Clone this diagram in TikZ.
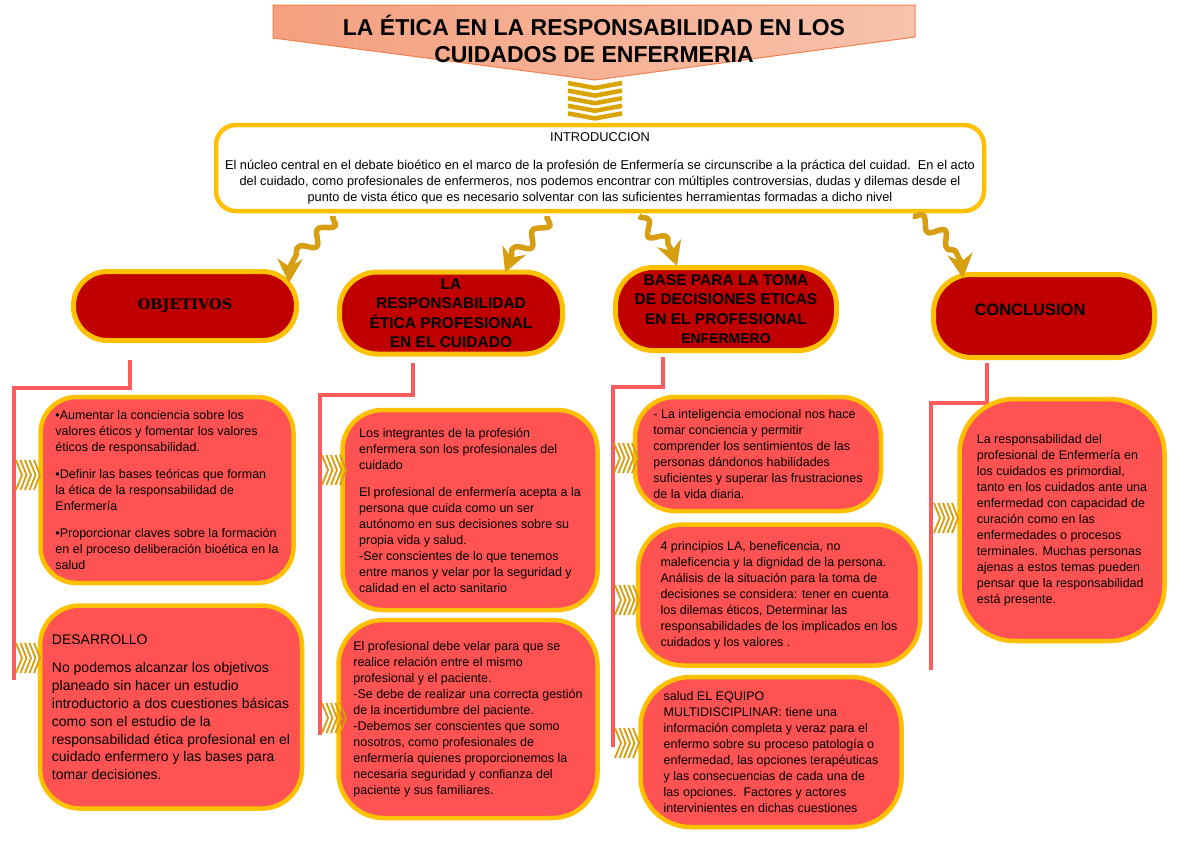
\documentclass[tikz,border=0pt]{standalone}
\usepackage{fontspec}
\setmainfont{Liberation Sans}
\newfontfamily\slabfont{DejaVu Serif}
\usetikzlibrary{arrows.meta,decorations.pathmorphing,positioning}

\definecolor{goldline}{RGB}{255,192,0}
\definecolor{pillred}{RGB}{192,0,0}
\definecolor{boxred}{RGB}{255,82,82}
\definecolor{linered}{RGB}{250,92,92}
\definecolor{wavegold}{RGB}{214,158,16}
\definecolor{chevgold}{RGB}{217,163,0}
\definecolor{bannerA}{RGB}{244,160,126}
\definecolor{bannerB}{RGB}{248,194,172}
\definecolor{bannerline}{RGB}{240,128,80}

\begin{document}
\begin{tikzpicture}[x=1pt, y=-1pt,
    pill/.style={draw=goldline, line width=5pt, fill=pillred, rounded corners=38pt,
      inner sep=0pt, align=center, font=\bfseries\fontsize{15.5}{19.5}\selectfont},
    textbox/.style={draw=goldline, line width=4.5pt, fill=boxred, inner sep=0pt,
      align=left, font=\fontsize{12.5}{16}\selectfont},
    redline/.style={draw=linered, line width=3.5pt},
    wavy/.style={draw=wavegold, line width=5.5pt, decorate,
      decoration={snake, amplitude=6pt, segment length=26pt, post length=16pt},
      -{Stealth[length=24pt, width=25pt]}},
    chevright/.pic={\foreach \k in {0,...,4}
      \draw[wavegold, line width=1.8pt] ({-11+4.5*\k},-15) -- ({-5+4.5*\k},0) -- ({-11+4.5*\k},15);},
    chevdown/.pic={\foreach \k in {0,...,4}
      \draw[chevgold, line width=4.5pt] (-27,{7.6*\k}) -- (0,{7.6*\k+5}) -- (27,{7.6*\k});}]
  \path[fill=white] (0,0) rectangle (1200,849);
  \useasboundingbox (0,0) rectangle (1200,849);

  \path[left color=bannerA, right color=bannerB, draw=bannerline, line width=1pt]
    (273,5) -- (915,5) -- (915,37) -- (595,80) -- (273,38) -- cycle;
  \node[font=\bfseries\fontsize{23}{27}\selectfont, align=center] (title) at (594,39)
    {LA ÉTICA EN LA RESPONSABILIDAD EN LOS\\CUIDADOS DE ENFERMERIA};
  \pic at (595,83) {chevdown};

  \node[draw=goldline, line width=4.5pt, rounded corners=20pt, fill=white, inner sep=0pt,
        minimum width=768, minimum height=86, align=center,
        font=\fontsize{12.8}{16}\selectfont] (intro) at (600,168)
    {INTRODUCCION\\[12pt]
     El núcleo central en el debate bioético en el marco de la profesión de Enfermería se circunscribe a la práctica del cuidad.\ \ En el acto\\
     del cuidado, como profesionales de enfermeros, nos podemos encontrar con múltiples controversias, dudas y dilemas desde el\\
     punto de vista ético que es necesario solventar con las suficientes herramientas formadas a dicho nivel};

  \coordinate (r1) at (130,360);  \coordinate (r1e) at (14,680);
  \coordinate (r2) at (413,363);  \coordinate (r2e) at (320,735);
  \coordinate (r3) at (663,357);  \coordinate (r3e) at (613,747);
  \coordinate (r4) at (987,363);  \coordinate (r4e) at (931,670);
  \draw[redline] (r1) -- ++(0,28) -| (r1e);
  \draw[redline] (r2) -- ++(0,32) -| (r2e);
  \draw[redline] (r3) -- ++(0,30) -| (r3e);
  \draw[redline] (r4) -- ++(0,40) -| (r4e);

  \node[pill, minimum width=223, minimum height=69, rounded corners=34pt,
        font=\slabfont\bfseries\fontsize{14.5}{17}\selectfont] (obj) at (185,306) {OBJETIVOS};
  \node[pill, minimum width=223, minimum height=82] (resp) at (451,313)
    {LA\\RESPONSABILIDAD\\ÉTICA PROFESIONAL\\EN EL CUIDADO};
  \node[pill, minimum width=221, minimum height=83] (base) at (726,309)
    {BASE PARA LA TOMA\\DE DECISIONES ETICAS\\EN EL PROFESIONAL\\{\fontsize{14}{19.5}\selectfont ENFERMERO}};
  \node[pill, minimum width=221, minimum height=83] (concl) at (1044,316) {};
  \node[font=\bfseries\fontsize{16.5}{20}\selectfont] (conclname) at (1030,310) {CONCLUSION};

  \node[textbox, minimum width=253, minimum height=186, rounded corners=36pt] (objtxt) at (167,490)
    {•Aumentar la conciencia sobre los\\valores éticos y fomentar los valores\\éticos de responsabilidad.\\[11pt]
     •Definir las bases teóricas que forman\\la ética de la responsabilidad de\\Enfermería\\[11pt]
     •Proporcionar claves sobre la formación\\en el proceso deliberación bioética en la\\salud};
  \node[textbox, minimum width=262, minimum height=203, rounded corners=40pt,
        font=\fontsize{14}{17.8}\selectfont] (desarrollo) at (171,707)
    {DESARROLLO\\[11pt]
     No podemos alcanzar los objetivos\\planeado sin hacer un estudio\\introductorio a dos cuestiones básicas\\
     como son el estudio de la\\responsabilidad ética profesional en el\\cuidado enfermero y las bases para\\tomar decisiones.};
  \node[textbox, minimum width=255, minimum height=200, rounded corners=40pt] (resptxt) at (470,510)
    {Los integrantes de la profesión\\enfermera son los profesionales del\\cuidado\\[11pt]
     El profesional de enfermería acepta a la\\persona que cuida como un ser\\autónomo en sus decisiones sobre su\\
     propia vida y salud.\\-Ser conscientes de lo que tenemos\\entre manos y velar por la seguridad y\\calidad en el acto sanitario};
  \node[textbox, minimum width=259, minimum height=198, rounded corners=45pt] (respmas) at (468,719)
    {El profesional debe velar para que se\\realice relación entre el mismo\\profesional y el paciente.\\
     -Se debe de realizar una correcta gestión\\de la incertidumbre del paciente.\\-Debemos ser conscientes que somo\\
     nosotros, como profesionales de\\enfermería quienes proporcionemos la\\necesaria seguridad y confianza del\\paciente y sus familiares.};
  \node[textbox, minimum width=246, minimum height=114, rounded corners=40pt] (basetxt) at (758,454)
    {- La inteligencia emocional nos hace\\tomar conciencia y permitir\\comprender los sentimientos de las\\
     personas dándonos habilidades\\suficientes y superar las frustraciones\\de la vida diaria.};
  \node[textbox, minimum width=282, minimum height=141, rounded corners=45pt] (baseprin) at (779,595)
    {4 principios LA, beneficencia, no\\maleficencia y la dignidad de la persona.\\Análisis de la situación para la toma de\\
     decisiones se considera: tener en cuenta\\los dilemas éticos, Determinar las\\
     responsabilidades de los implicados en los\\cuidados y los valores .};
  \node[textbox, minimum width=261, minimum height=150, rounded corners=50pt] (baseequipo) at (771,752)
    {salud EL EQUIPO\\MULTIDISCIPLINAR: tiene una\\información completa y veraz para el\\
     enfermo sobre su proceso patología o\\enfermedad, las opciones terapéuticas\\y las consecuencias de cada una de\\
     las opciones.\ \ Factores y actores\\intervinientes en dichas cuestiones};
  \node[textbox, minimum width=205, minimum height=242, rounded corners=55pt] (concltxt) at (1062,520)
    {La responsabilidad del\\profesional de Enfermería en\\los cuidados es primordial,\\tanto en los cuidados ante una\\
     enfermedad con capacidad de\\curación como en las\\enfermedades o procesos\\terminales. Muchas personas\\
     ajenas a estos temas pueden\\pensar que la responsabilidad\\está presente.};

  \pic at (27,475) {chevright};
  \pic at (27,658) {chevright};
  \pic at (333,470) {chevright};
  \pic at (333,718) {chevright};
  \pic at (625,458) {chevright};
  \pic at (626,600) {chevright};
  \pic at (626,743) {chevright};
  \pic at (945,518) {chevright};

  \coordinate (w1) at (333,216);
  \coordinate (w2) at (547,216);
  \coordinate (w3) at (639,216);
  \coordinate (w4) at (913,216);
  \draw[wavy] (w1) .. controls +(-10,22) and +(-8,-28) .. ([xshift=-10pt,yshift=-14pt]obj.north east);
  \draw[wavy] (w2) .. controls +(-8,22) and +(6,-28) .. ([xshift=54pt,yshift=-3pt]resp.north);
  \draw[wavy] (w3) .. controls +(12,18) and +(-4,-26) .. ([xshift=-49pt,yshift=-1pt]base.north);
  \draw[wavy] (w4) .. controls +(20,12) and +(4,-26) .. ([xshift=-81pt,yshift=-6pt]concl.north);
\end{tikzpicture}
\end{document}
